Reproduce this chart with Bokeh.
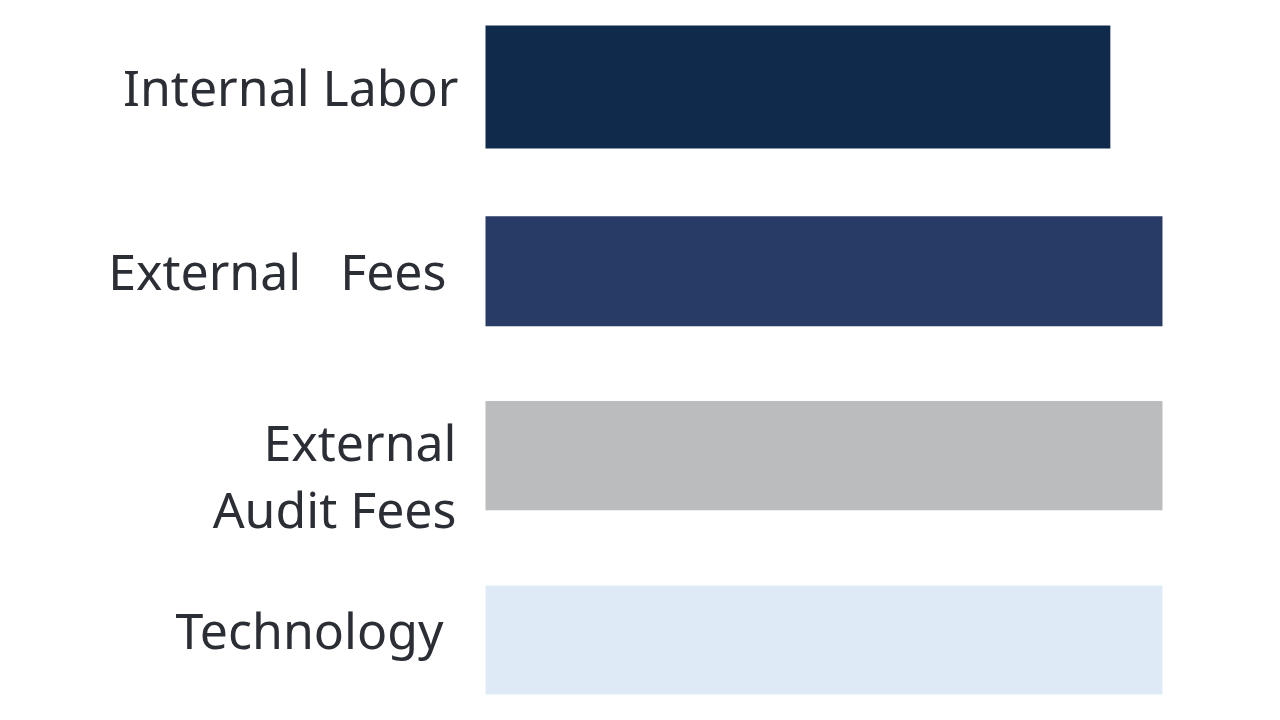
from bokeh.plotting import figure
from bokeh.models import ColumnDataSource, Range1d
from bokeh.core.properties import value
from bokeh.embed import file_html
from bokeh.resources import INLINE

# data
categories = ["Internal Labor", "External\u00a0\u00a0\u00a0Fees", "External\nAudit Fees", "Technology"]
costs = [92.3, 100, 100, 100]

# styles
colors = ["#102a4c", "#283a66", "#bbbcbe", "#deebf7"]
bar_heights = [0.667, 0.597, 0.592, 0.592]
label_dx = [-27, -39, -29, -42]
label_dy = [0, 0, 20, -10]

pos = list(range(len(categories)))

src = ColumnDataSource(data=dict(
    y=pos, cost=costs, label=categories, color=colors,
    h=bar_heights, dx=label_dx, dy=label_dy, zero=[0] * len(pos),
))

p = figure(width=1264, height=704, output_backend="svg", toolbar_location=None,
           x_range=Range1d(-71.64, 115.07), y_range=Range1d(3.35, -0.469),
           min_border=0)

p.hbar(y="y", right="cost", left=0, height="h", fill_color="color",
       line_color=None, source=src)

p.text(x="zero", y="y", text="label", x_offset="dx", y_offset="dy", source=src,
       text_align="right", text_baseline="middle", text_font=value("Noto Sans"),
       text_font_size="50px", text_color="#2b2f35", text_line_height=0.98)

p.axis.visible = False
p.grid.visible = False
p.outline_line_color = None
p.background_fill_color = "white"

open("out.html", "w").write(file_html(p, INLINE))
